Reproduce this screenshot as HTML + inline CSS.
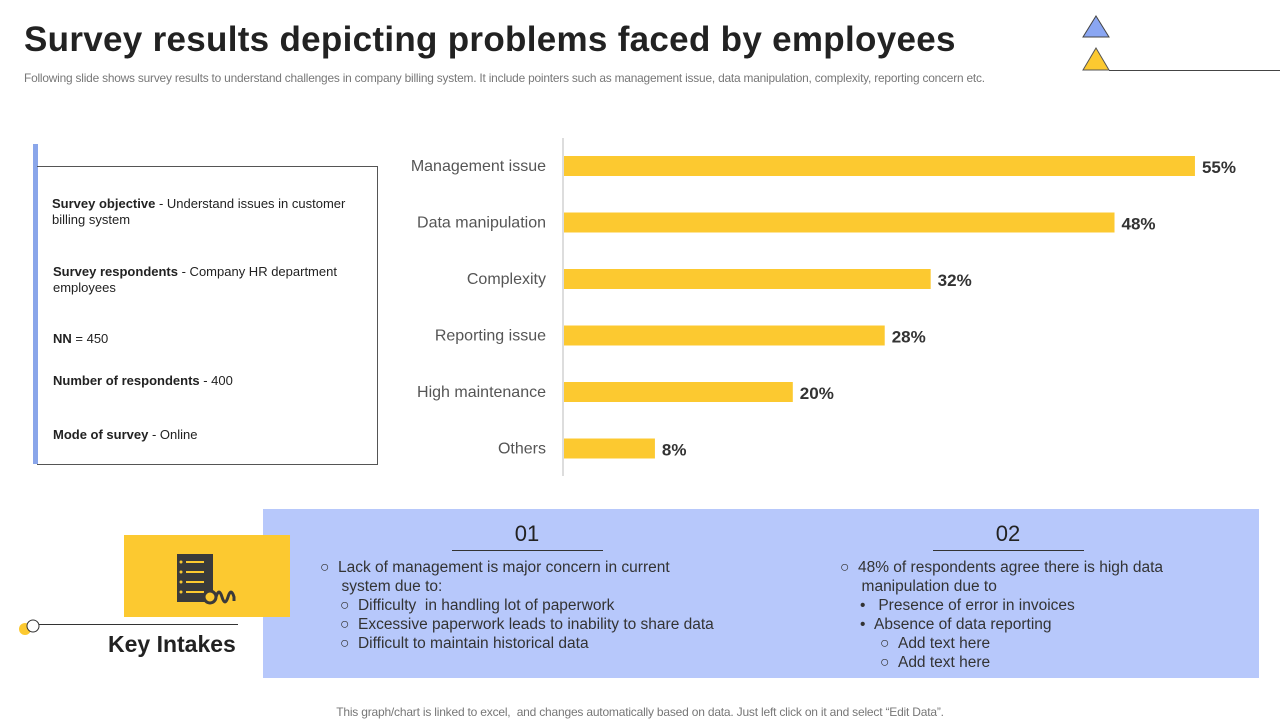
<!DOCTYPE html>
<html><head><meta charset="utf-8">
<style>
body{margin:0;width:1280px;height:720px;background:#fff;position:relative;overflow:hidden;font-family:"Liberation Sans",Arial,sans-serif;color:#333}
.abs{position:absolute}
h1{position:absolute;left:24px;top:20px;margin:0;font-size:35px;font-weight:bold;color:#222;letter-spacing:0.3px}
.sub{left:24px;top:71px;font-size:11.9px;color:#777;letter-spacing:-0.2px}
.info{left:37px;top:166px;width:340px;height:297px;border:1px solid #555;border-left:none}
.bluebar{left:33px;top:144px;width:5px;height:320px;background:#8aa6ea}
.it{font-size:13px;color:#222;line-height:16px}
.panel{left:263px;top:509px;width:996px;height:169px;background:#b7c8fb}
.num{font-size:22px;color:#222;text-align:center;width:150px}
.ul{height:1px;background:#333}
.txt{font-size:15.5px;color:#333;line-height:19px}
.foot{left:0;width:1280px;top:705px;text-align:center;font-size:12px;color:#777;letter-spacing:-0.2px}
</style></head><body>
<h1>Survey results depicting problems faced by employees</h1>
<div class="abs sub">Following slide shows survey results to understand challenges in company billing system. It include pointers such as management issue, data manipulation, complexity, reporting concern etc.</div>
<svg class="abs" style="left:1080px;top:12px" width="200" height="62">
<polygon points="16,4 29,25 3,25" fill="#8aa6f2" stroke="#444" stroke-width="1"/>
<polygon points="16,36 29,58 3,58" fill="#fcc930" stroke="#555" stroke-width="1"/>
<line x1="29" y1="58.5" x2="200" y2="58.5" stroke="#444" stroke-width="1"/>
</svg>

<div class="abs bluebar"></div>
<div class="abs info"></div>
<div class="abs it" style="left:52px;top:196px;width:310px"><b>Survey objective</b> - Understand issues in customer billing system</div>
<div class="abs it" style="left:53px;top:264px;width:310px"><b>Survey respondents</b> - Company HR department employees</div>
<div class="abs it" style="left:53px;top:331px"><b>NN</b> = 450</div>
<div class="abs it" style="left:53px;top:373px"><b>Number of respondents</b> - 400</div>
<div class="abs it" style="left:53px;top:427px"><b>Mode of survey</b> - Online</div>

<svg id="chart" class="abs" style="left:0;top:0" width="1280" height="500"></svg>

<div class="abs panel"></div>
<div class="abs" style="left:124px;top:535px;width:166px;height:82px;background:#fcc930"></div>
<svg class="abs" style="left:170px;top:548px" width="75" height="62">
<rect x="7" y="6" width="36" height="48" fill="#3a3a3a"/>
<g stroke="#fcc930" stroke-width="2"><line x1="16" y1="14" x2="34" y2="14"/><line x1="16" y1="24" x2="34" y2="24"/><line x1="16" y1="34" x2="34" y2="34"/><line x1="16" y1="44" x2="34" y2="44"/></g>
<g fill="#fcc930"><circle cx="11" cy="14" r="1.5"/><circle cx="11" cy="24" r="1.5"/><circle cx="11" cy="34" r="1.5"/><circle cx="11" cy="44" r="1.5"/></g>
<circle cx="40" cy="49" r="6" fill="#fcc930" stroke="#3a3a3a" stroke-width="3"/>
<path d="M46 49 q3 -10 6 0 q3 10 6 0 q3 -10 6 0 v4" fill="none" stroke="#3a3a3a" stroke-width="3"/>
</svg>
<svg class="abs" style="left:15px;top:615px" width="225" height="25">
<circle cx="10" cy="14" r="6" fill="#fcc930"/>
<circle cx="18" cy="11" r="6" fill="#fff" stroke="#333" stroke-width="1"/>
<line x1="24" y1="9.5" x2="223" y2="9.5" stroke="#333" stroke-width="1"/>
</svg>
<div class="abs" style="left:108px;top:631px;font-size:23px;font-weight:bold;color:#222">Key Intakes</div>

<div class="abs num" style="left:452px;top:521px">01</div>
<div class="abs ul" style="left:452px;top:550px;width:151px"></div>
<div class="abs txt" style="left:320px;top:558px;width:420px">
<div>○&nbsp;&nbsp;Lack of management is major concern in current<br>&nbsp;&nbsp;&nbsp;&nbsp;&nbsp;system due to:</div>
<div style="padding-left:20px">○&nbsp;&nbsp;Difficulty&nbsp; in handling lot of paperwork<br>○&nbsp;&nbsp;Excessive paperwork leads to inability to share data<br>○&nbsp;&nbsp;Difficult to maintain historical data</div>
</div>
<div class="abs num" style="left:933px;top:521px">02</div>
<div class="abs ul" style="left:933px;top:550px;width:151px"></div>
<div class="abs txt" style="left:840px;top:558px;width:400px">
<div>○&nbsp;&nbsp;48% of respondents agree there is high data<br>&nbsp;&nbsp;&nbsp;&nbsp;&nbsp;manipulation due to</div>
<div style="padding-left:20px">•&nbsp;&nbsp;&nbsp;Presence of error in invoices<br>•&nbsp;&nbsp;Absence of data reporting</div>
<div style="padding-left:40px">○&nbsp;&nbsp;Add text here<br>○&nbsp;&nbsp;Add text here</div>
</div>

<div class="abs foot">This graph/chart is linked to excel,&nbsp; and changes automatically based on data. Just left click on it and select “Edit Data”.</div>

<script>
const categories=["Management issue","Data manipulation","Complexity","Reporting issue","High maintenance","Others"];
const values=[55,48,32,28,20,8];
const valueLabels=["55%","48%","32%","28%","20%","8%"];
const svg=document.getElementById('chart');
const NS='http://www.w3.org/2000/svg';
const x0=563, pxPer=11.49, yTop=138, step=56.5, barH=20;
function xs(v){return x0+v*pxPer;}
function yc(i){return yTop+28+i*step;}
const ax=document.createElementNS(NS,'line');
ax.setAttribute('x1',x0);ax.setAttribute('x2',x0);ax.setAttribute('y1',yTop);ax.setAttribute('y2',476);
ax.setAttribute('stroke','#bbb');


svg.appendChild(ax);
categories.forEach((c,i)=>{
  const r=document.createElementNS(NS,'rect');
  r.setAttribute('x',x0+1);r.setAttribute('y',yc(i)-barH/2);
  r.setAttribute('width',xs(values[i])-x0-1);r.setAttribute('height',barH);
  r.setAttribute('fill','#fcc930');
  
  
  svg.appendChild(r);
  const t=document.createElementNS(NS,'text');
  t.setAttribute('x',x0-17);t.setAttribute('y',yc(i)+5);t.setAttribute('text-anchor','end');
  t.setAttribute('font-size','16');t.setAttribute('fill','#555');t.textContent=c;
  
  
  svg.appendChild(t);
  const v=document.createElementNS(NS,'text');
  v.setAttribute('x',xs(values[i])+7);v.setAttribute('y',yc(i)+7);
  v.setAttribute('font-size','17');v.setAttribute('font-weight','bold');v.setAttribute('fill','#333');
  v.textContent=valueLabels[i];
  
  
  svg.appendChild(v);
});
</script>
</body></html>
